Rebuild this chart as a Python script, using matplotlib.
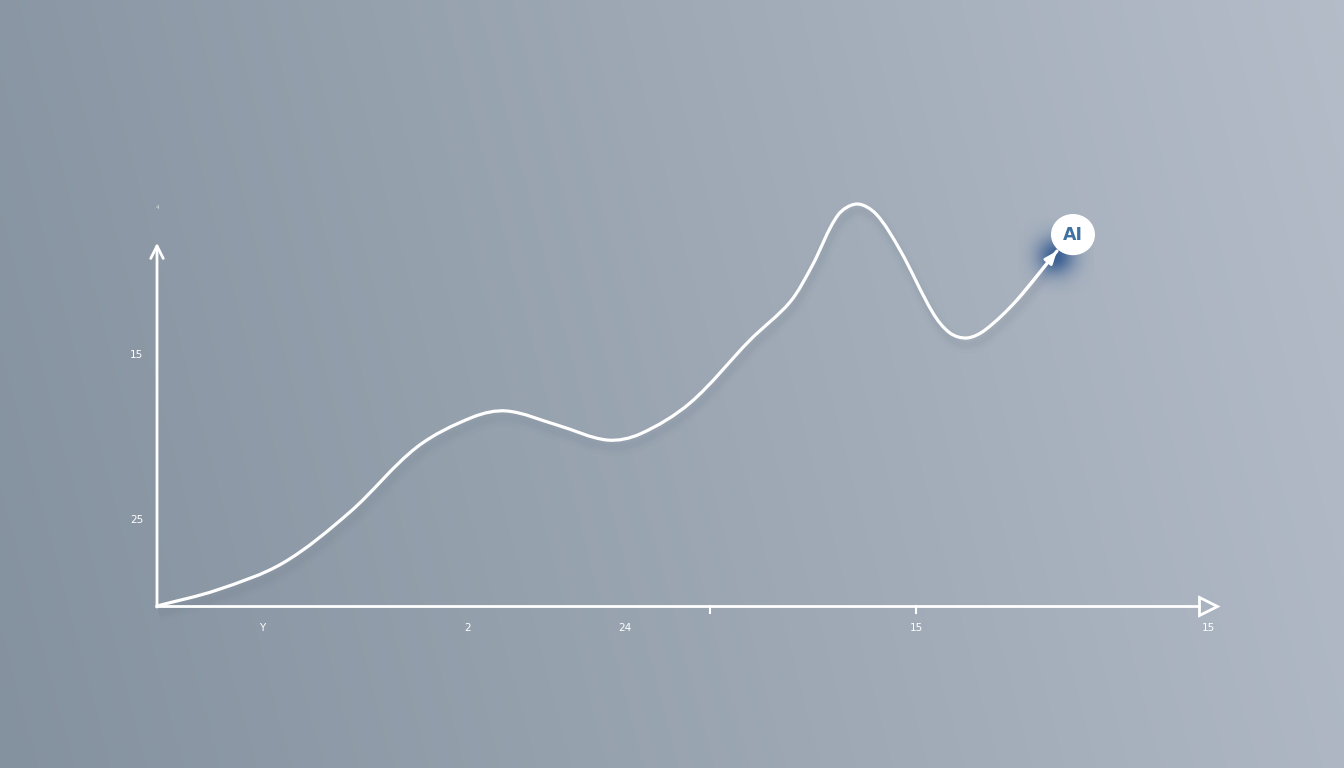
import numpy as np
import matplotlib
matplotlib.use("Agg")
import matplotlib.pyplot as plt
from matplotlib.path import Path
from matplotlib.patches import PathPatch
from matplotlib.transforms import offset_copy

# ---- data ----
curve_x = [0.000, 0.575, 1.208, 1.850, 2.493, 3.030, 3.356, 3.835, 4.314, 4.631,
           5.110, 5.686, 6.069, 6.280, 6.529, 6.711, 6.894, 7.124, 7.440, 7.603,
           7.766, 7.939, 8.245, 8.629]
curve_y = [0.000, 0.443, 1.191, 2.604, 4.404, 5.235, 5.402, 5.014, 4.598, 4.765,
           5.623, 7.368, 8.421, 9.418, 10.831, 11.136, 10.859, 9.861, 8.116, 7.562,
           7.424, 7.645, 8.476, 9.834]

x_tick_labels = ["Y", "2", "24", "15", "15"]
x_tick_label_pos = [1.007, 2.982, 4.487, 7.277, 10.077]
x_tick_marks = [5.302, 7.277]
y_tick_labels = ["15", "25", "4"]
y_tick_label_pos = [6.953, 2.382, 11.025]
badge_text = "AI"

# ---- figure ----
W, H, DPI = 1344, 768, 100
SX, SY = 104.3, 36.1
fig = plt.figure(figsize=(W / DPI, H / DPI), dpi=DPI)
ax = fig.add_axes([0, 0, 1, 1])
xmin, xmax = -157 / SX, (W - 157) / SX
ymin, ymax = -(H - 606) / SY, 606 / SY
ax.set_xlim(xmin, xmax)
ax.set_ylim(ymin, ymax)
ax.axis("off")

# background gradient
u = np.linspace(0, 1, 400)[None, :]
v = np.linspace(0, 1, 240)[:, None]
t = np.clip(0.80 * u + 0.12 * (1 - v), 0, 1)
c_left = np.array([132, 145, 158]) / 255
c_right = np.array([184, 192, 204]) / 255
img = c_left[None, None, :] * (1 - t[..., None]) + c_right[None, None, :] * t[..., None]
ax.imshow(img, extent=[xmin, xmax, ymin, ymax], aspect="auto", zorder=0,
          interpolation="bilinear", origin="upper")

# smooth curve: chord-length Catmull-Rom -> cubic Bezier through the read points
scale = np.array([SX, SY])
S = np.column_stack([curve_x, curve_y]) * scale
n = len(S)
d = np.linalg.norm(np.diff(S, axis=0), axis=1)
m = np.zeros_like(S)
m[0] = (S[1] - S[0]) / d[0]
m[-1] = (S[-1] - S[-2]) / d[-1]
for i in range(1, n - 1):
    m[i] = (S[i + 1] - S[i - 1]) / (d[i - 1] + d[i])
verts = [tuple(S[0] / scale)]
codes = [Path.MOVETO]
for i in range(n - 1):
    c1 = S[i] + m[i] * d[i] / 3
    c2 = S[i + 1] - m[i + 1] * d[i] / 3
    verts += [tuple(c1 / scale), tuple(c2 / scale), tuple(S[i + 1] / scale)]
    codes += [Path.CURVE4] * 3
path = Path(verts, codes)

# faint shadow under curve
shadow_tr = offset_copy(ax.transData, fig=fig, x=2, y=-7, units="dots")
for lw, a in [(12, 0.02), (7, 0.025), (4, 0.025)]:
    ax.add_patch(PathPatch(path, facecolor="none", edgecolor="#3a4a5c", lw=lw,
                           alpha=a, transform=shadow_tr, zorder=2))

# badge shadow (blurred blue blob), beneath the curve
bx_px, by_px = 1056, 256
gx = np.linspace(-1, 1, 120)
GX, GY = np.meshgrid(gx, gx)
blob = np.exp(-((GX / 0.5) ** 2 + (GY / 0.5) ** 2))
rgba = np.zeros((120, 120, 4))
rgba[..., 0] = 0.16
rgba[..., 1] = 0.32
rgba[..., 2] = 0.55
rgba[..., 3] = 0.85 * blob
half_w, half_h = 38 / SX, 38 / SY
cx = (bx_px - 157) / SX
cy = (606 - by_px) / SY
ax.imshow(rgba, extent=[cx - half_w, cx + half_w, cy - half_h, cy + half_h],
          aspect="auto", zorder=3, interpolation="bilinear")

ax.add_patch(PathPatch(path, facecolor="none", edgecolor="white", lw=2.3,
                       capstyle="round", joinstyle="round", zorder=4))

# arrowhead at the end of curve
ax.annotate("", xy=(curve_x[-1], curve_y[-1]), xytext=(curve_x[-2], curve_y[-2]),
            arrowprops=dict(arrowstyle="-|>,head_length=0.75,head_width=0.3",
                            color="white", lw=2.0, shrinkA=0, shrinkB=0), zorder=5)

# badge
ax.annotate(badge_text, xy=(curve_x[-1], curve_y[-1]), xytext=(11.5, 11.8),
            textcoords="offset points", ha="center", va="center",
            fontsize=12.5, fontweight="bold", color="#3f72a0", family="DejaVu Sans",
            bbox=dict(boxstyle="ellipse,pad=0.32", fc="white", ec="none"), zorder=7)

# axes
ax.annotate("", xy=(0, 10.06), xytext=(0, -0.03),
            arrowprops=dict(arrowstyle="->,head_length=0.9,head_width=0.45",
                            color="white", lw=2.0, shrinkA=0, shrinkB=0), zorder=3)
ax.plot([-0.02, 10.0], [0, 0], color="white", lw=2.0, solid_capstyle="butt", zorder=3)
ax.plot([10.075], [0], marker=">", markersize=13, markerfacecolor="none",
        markeredgecolor="white", markeredgewidth=2.0, zorder=3)

for xt in x_tick_marks:
    ax.plot([xt, xt], [0, -0.2], color="white", lw=1.5, zorder=3)

for lab, xp in zip(x_tick_labels, x_tick_label_pos):
    ax.text(xp, -0.61, lab, ha="center", va="center", fontsize=7.5,
            color="white", family="DejaVu Sans")
for lab, yp in zip(y_tick_labels, y_tick_label_pos):
    if lab == "4":
        ax.text(0.005, yp, lab, ha="center", va="center", fontsize=4,
                color="white", alpha=0.7)
    else:
        ax.text(-0.195, yp, lab, ha="center", va="center", fontsize=7.5,
                color="white", family="DejaVu Sans")

fig.savefig("out.png", dpi=DPI)
